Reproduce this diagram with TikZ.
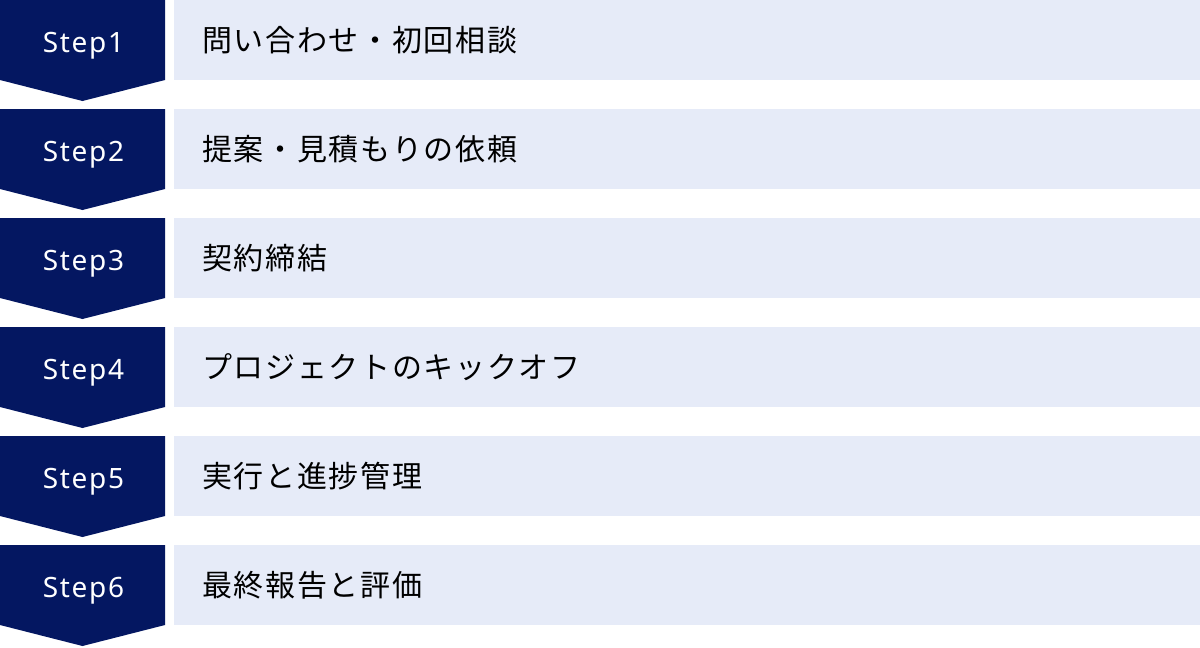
\documentclass[tikz,border=0pt]{standalone}
\usepackage{fontspec}
\setmainfont{Noto Sans}
\newfontfamily\stepfont[LetterSpace=6]{Noto Sans}
\newfontfamily\jpfont[LetterSpace=5.5]{Noto Sans CJK JP}
\definecolor{navy}{HTML}{041761}
\definecolor{pale}{HTML}{E6EBF8}
\tikzset{
  stepshape/.style={fill=navy, draw=none},
  steplabel/.style={text=white, font=\stepfont\fontsize{21}{24}\selectfont, inner sep=0pt, anchor=base},
  rowbox/.style={fill=pale, draw=none, minimum width=1026*0.75pt, minimum height=80*0.75pt, inner sep=0pt, anchor=north west},
  rowtext/.style={text=black, font=\jpfont\fontsize{22.5}{26}\selectfont, inner sep=0pt, anchor=west}
}
\begin{document}
\begin{tikzpicture}[x=0.75pt,y=-0.75pt]
\useasboundingbox (0,0) rectangle (1200,647);
\foreach \i/\t in {1/問い合わせ・初回相談,2/提案・見積もりの依頼,3/契約締結,4/プロジェクトのキックオフ,5/実行と進捗管理,6/最終報告と評価}{
  \pgfmathsetmacro\y{109*(\i-1)}
  \fill[stepshape] (0,\y) -- (165,\y) -- (165,\y+80) -- (82.5,\y+101) -- (0,\y+80) -- cycle;
  \node[steplabel] (step\i) at (83.5,\y+52) {Step\i};
  \node[rowbox] (box\i) at (174,\y) {};
  \node[rowtext] (text\i) at (202,\y+40) {\t};
}
\end{tikzpicture}
\end{document}
